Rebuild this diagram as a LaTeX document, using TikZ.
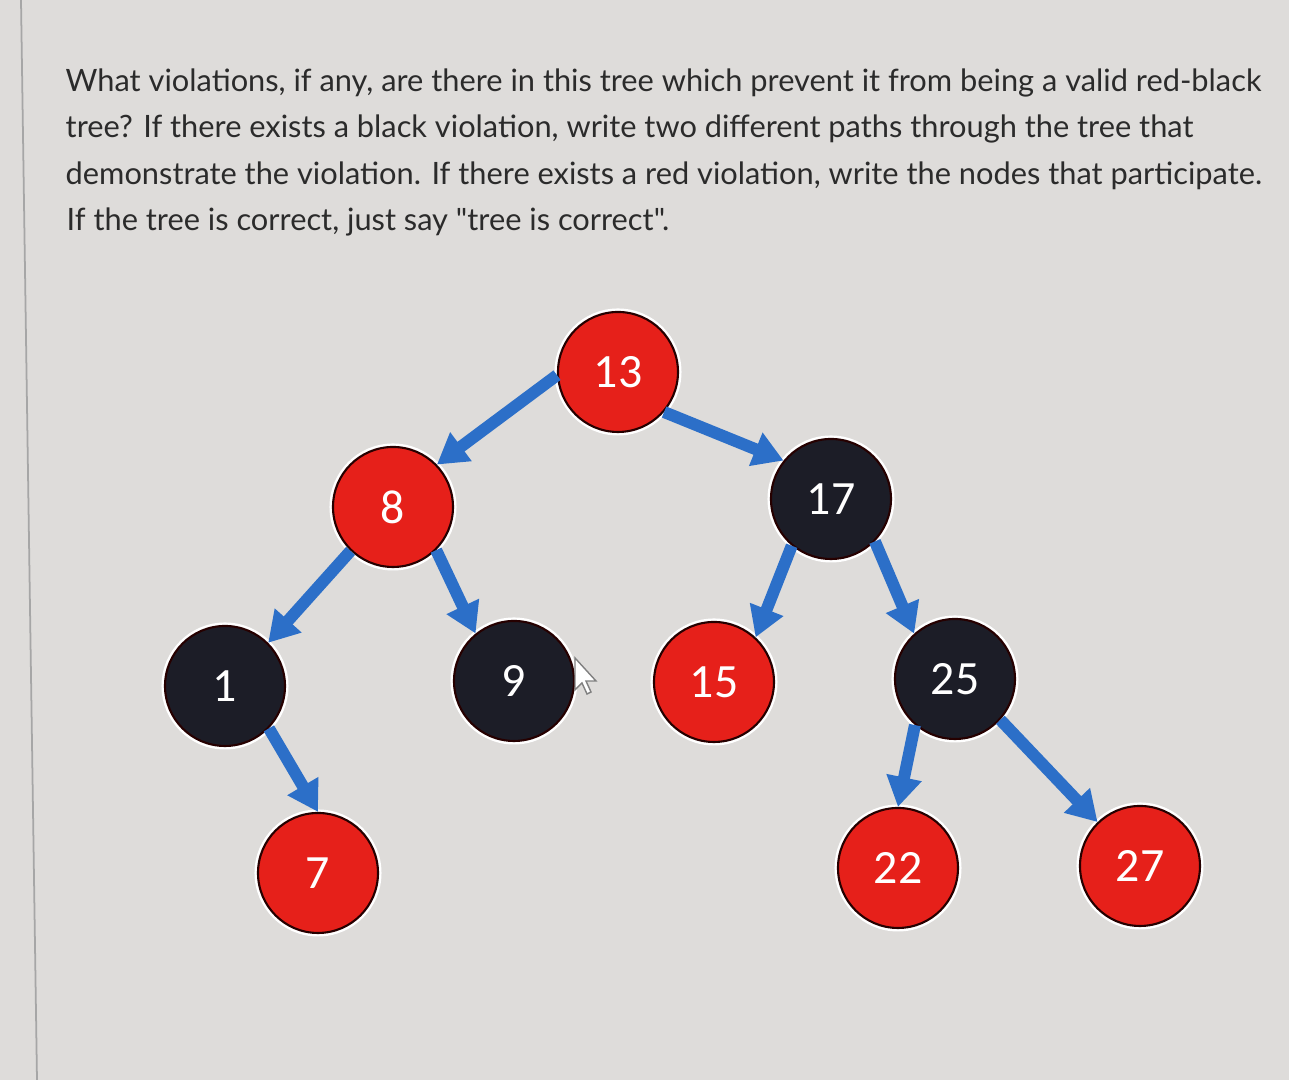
\documentclass[tikz,border=0pt]{standalone}
\usepackage{fontspec}
\setmainfont{Lato}[Ligatures=TeXOff]
\newfontfamily\numfont{Carlito}
\usetikzlibrary{arrows.meta}

\definecolor{rbred}{HTML}{E6201A}
\definecolor{rbblack}{HTML}{1C1D27}
\definecolor{edgeblue}{HTML}{2C6FC8}
\definecolor{screen}{HTML}{DEDCDA}
\definecolor{inktext}{HTML}{2B2B2B}

\tikzset{
  rbnode/.style={circle, minimum size=1.2cm, inner sep=0pt, text=white,
    draw=black!85!red, line width=0.6pt,
    preaction={draw=white, line width=2pt},
    font=\numfont\fontsize{13.6}{15}\selectfont},
  rednode/.style={rbnode, fill=rbred},
  blacknode/.style={rbnode, fill=rbblack},
  child/.style={draw=edgeblue, line width=3.4pt,
    -{Triangle[length=0.3cm, width=0.34cm]}},
  qline/.style={anchor=base west, inner sep=0pt, text=inktext,
    font=\fontsize{8.76}{12}\selectfont}
}

\begin{document}
\begin{tikzpicture}
\fill[screen] (0, 0) rectangle (12.89, 10.8);
\useasboundingbox (0, 0) rectangle (12.89, 10.8);
\draw[gray!70, line width=0.5pt] (0.21, 10.8) -- (0.37, 0);

% question text
\node[qline] (q1) at (0.65, 9.88) {What violations, if any, are there in this tree which prevent it from being a valid red-black};
\node[qline] (q2) at (0.65, 9.42) {tree? If there exists a black violation, write two different paths through the tree that};
\node[qline] (q3) at (0.65, 8.95) {demonstrate the violation. If there exists a red violation, write the nodes that participate.};
\node[qline] (q4) at (0.66, 8.49) {If the tree is correct, just say "tree is correct".};

% tree
\node[rednode] (n13) at (6.18, 7.08) {13};
\node[rednode] (n8) at (3.93, 5.73) {8};
\node[blacknode] (n17) at (8.31, 5.81) {17};
\node[blacknode] (n1) at (2.25, 3.94) {1};
\node[blacknode] (n9) at (5.14, 3.99) {9};
\node[rednode] (n15) at (7.14, 3.98) {15};
\node[blacknode] (n25) at (9.55, 4.01) {25};
\node[rednode] (n7) at (3.18, 2.07) {7};
\node[rednode] (n22) at (8.98, 2.12) {22};
\node[rednode] (n27) at (11.40, 2.14) {27};

\draw[child] (n13.183) -- (n8.44);
\draw[child] (n13.-41) -- (n17.141);
\draw[child] (n8.-134) -- (n1.45);
\draw[child] (n8.-45) -- (n9.129);
\draw[child] (n17.-130) -- (n15.47);
\draw[child] (n17.-44) -- (n25.132);
\draw[child] (n1.-44) -- (n7.90);
\draw[child] (n25.-131) -- (n22.90);
\draw[child] (n25.-42) -- (n27.134);

% mouse pointer
\filldraw[fill=white, draw=gray, line width=0.4pt]
  (5.75, 4.22) -- (5.75, 3.90) -- (5.82, 3.97) -- (5.87, 3.86)
  -- (5.91, 3.88) -- (5.86, 3.99) -- (5.96, 3.99) -- cycle;
\end{tikzpicture}
\end{document}
